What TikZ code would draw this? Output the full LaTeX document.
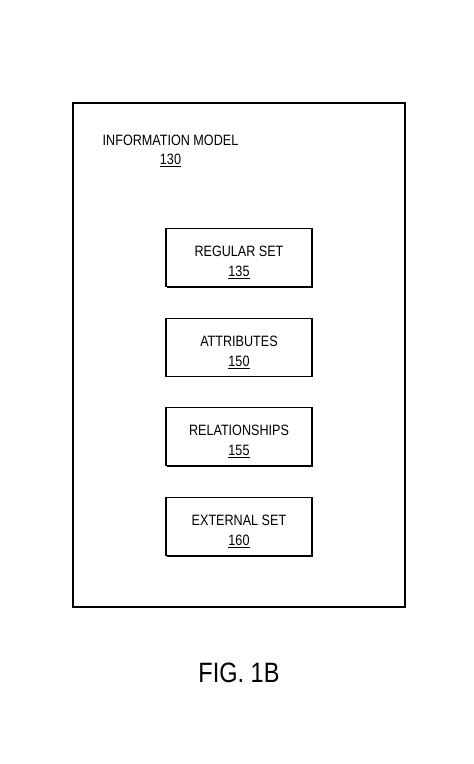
\documentclass[tikz,border=0pt]{standalone}
\usepackage{fontspec}
\setmainfont{Liberation Sans}[FakeStretch=0.84]
\usepackage{tikz}
\usetikzlibrary{positioning,shadows}
\tikzstyle{setbox}=[draw, line width=1.1pt, fill=white, minimum width=146pt, minimum height=58pt,
  drop shadow={shadow xshift=1.2pt, shadow yshift=-1.2pt, opacity=1, fill=black}]
\tikzstyle{settext}=[align=center, yshift=-5pt, font=\fontsize{15pt}{20pt}\selectfont]
\tikzstyle{frame}=[draw, line width=1.3pt, fill=white,
  drop shadow={shadow xshift=1.2pt, shadow yshift=-1.2pt, opacity=1, fill=black}]

\begin{document}
\begin{tikzpicture}[x=1pt, y=-1pt, node distance=30.5pt]
  \useasboundingbox (0,0) rectangle (474,764);
  \fill[white] (0,0) rectangle (474,764);
  % outer model box
  \node[frame, minimum width=332pt, minimum height=504pt, inner sep=0pt] (model) at (239,355) {};
  \node[align=center, font=\fontsize{15pt}{19pt}\selectfont] (title) at (170.5,150.5)
    {INFORMATION MODEL\\\underline{130}};
  % the four sets
  \node[setbox] (regular) at (239,257.5) {};
  \node[setbox, below=of regular] (attr) {};
  \node[setbox, below=of attr] (rel) {};
  \node[setbox, below=of rel] (ext) {};
  \node[settext] (regulartxt) at (regular) {REGULAR SET\\\underline{135}};
  \node[settext] (attrtxt) at (attr) {ATTRIBUTES\\\underline{150}};
  \node[settext] (reltxt) at (rel) {RELATIONSHIPS\\\underline{155}};
  \node[settext] (exttxt) at (ext) {EXTERNAL SET\\\underline{160}};
  \node[font=\fontsize{28pt}{30pt}\selectfont] (fig) at (239,673) {FIG. 1B};
\end{tikzpicture}
\end{document}
